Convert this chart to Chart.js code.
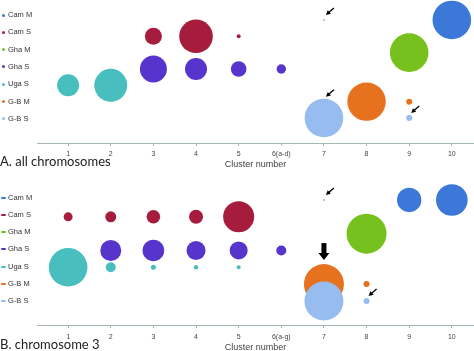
<!DOCTYPE html>
<html>
<head>
  <title>Cluster membership</title>
  <script src="https://cdn.jsdelivr.net/npm/chart.js"></script>
  <style>
    body { margin: 0; width: 474px; height: 351px; overflow: hidden; position: relative; background: #fff;
           font-family: "Liberation Sans", Arial, sans-serif; }
    .panel { position: absolute; left: 0; }
    .legend-item { position: absolute; left: 8px; font-size: 7.5px; line-height: 10px; color: #333; white-space: nowrap; }
    .legend-item i { position: absolute; top: 4px; }
    .panel-label { position: absolute; left: 0; font-family: Lato, sans-serif; font-size: 13px; line-height: 15px; color: #222; white-space: nowrap; }
  </style>
</head>
<body>
  <div class="panel" style="top:0"><canvas id="chartA" width="474" height="175"></canvas></div>
  <div class="panel" style="top:175px"><canvas id="chartB" width="474" height="180"></canvas></div>
  <div id="legendA"></div>
  <div id="legendB"></div>
  <div class="panel-label" style="top:154px">A. all chromosomes</div>
  <div class="panel-label" style="top:337px">B. chromosome 3</div>

  <script>
    const seriesNames = ['Cam M', 'Cam S', 'Gha M', 'Gha S', 'Uga S', 'G-B M', 'G-B S'];
    const seriesColors = ['#3c78d8', '#a61c3c', '#77c11e', '#5735cc', '#48bebe', '#e6711f', '#96bcf0'];

    const clusterLabelsA = ['1', '2', '3', '4', '5', '6(a-d)', '7', '8', '9', '10'];
    const clusterLabelsB = ['1', '2', '3', '4', '5', '6(a-g)', '7', '8', '9', '10'];

    // A. all chromosomes: clusters each series falls in, and bubble size there
    const clustersA = [[7, 10], [3, 4, 5], [9], [3, 4, 5, 6], [1, 2], [7, 8, 9], [7, 9]];
    const sizesA = [[0.8, 19.3], [8.5, 16.8, 2], [19.3], [13.5, 11, 7.8, 4.7], [11, 16.5], [2.2, 19.2, 3], [19.3, 3]];

    // B. chromosome 3
    const clustersB = [[7, 9, 10], [1, 2, 3, 4, 5], [8], [2, 3, 4, 5, 6], [1, 2, 3, 4, 5], [7, 8], [7, 8]];
    const sizesB = [[0.8, 12.2, 15.8], [4.5, 5.5, 6.8, 7, 15.5], [20], [10.5, 10.8, 9.5, 9, 5], [19.3, 5, 2.5, 2.2, 2], [20, 3], [19.5, 3]];

    // arrowed points [series, cluster]
    const arrowsA = [['Cam M', 7], ['G-B M', 7], ['G-B S', 9]];
    const arrowsB = [['Cam M', 7], ['G-B S', 8]];
    const bigArrowsB = [['G-B M', 7]];

    const arrowPlugin = {
      id: 'arrows',
      afterDatasetsDraw(chart, args, opts) {
        const { ctx, scales: { x, y } } = chart;
        ctx.save();
        ctx.fillStyle = '#000';
        ctx.strokeStyle = '#000';
        (opts.small || []).forEach(([name, c]) => {
          const px = x.getPixelForValue(c);
          const py = y.getPixelForValue(seriesNames.indexOf(name));
          const x0 = px + 10, y0 = py - 12, x1 = px + 2, y1 = py - 5;
          const a = Math.atan2(y1 - y0, x1 - x0);
          const hl = 4.5, hw = 2.4;
          ctx.lineWidth = 1.3;
          ctx.beginPath();
          ctx.moveTo(x0, y0);
          ctx.lineTo(x1 - 3 * Math.cos(a), y1 - 3 * Math.sin(a));
          ctx.stroke();
          ctx.beginPath();
          ctx.moveTo(x1, y1);
          ctx.lineTo(x1 - hl * Math.cos(a) + hw * Math.sin(a), y1 - hl * Math.sin(a) - hw * Math.cos(a));
          ctx.lineTo(x1 - hl * Math.cos(a) - hw * Math.sin(a), y1 - hl * Math.sin(a) + hw * Math.cos(a));
          ctx.closePath();
          ctx.fill();
        });
        (opts.big || []).forEach(([name, c]) => {
          const px = x.getPixelForValue(c);
          const py = y.getPixelForValue(seriesNames.indexOf(name));
          ctx.fillRect(px - 2.5, py - 41, 5, 10.5);
          ctx.beginPath();
          ctx.moveTo(px - 5.5, py - 31);
          ctx.lineTo(px + 5.5, py - 31);
          ctx.lineTo(px, py - 24);
          ctx.closePath();
          ctx.fill();
        });
        ctx.restore();
      }
    };

    function makeChart(id, clusters, sizes, labels, cfg) {
      const datasets = seriesNames.map((name, i) => ({
        label: name,
        data: clusters[i].map((c, j) => ({ x: c, y: i, r: sizes[i][j] })),
        backgroundColor: seriesColors[i],
        borderWidth: 0,
        clip: false,
        order: seriesNames.length - i
      }));

      new Chart(document.getElementById(id), {
        type: 'bubble',
        data: { datasets },
        plugins: [arrowPlugin],
        options: {
          responsive: false,
          animation: false,
          events: [],
          layout: { autoPadding: false, padding: { left: 37, right: 0, top: 0, bottom: 0 } },
          plugins: {
            legend: { display: false },
            tooltip: { enabled: false },
            arrows: { small: cfg.arrows, big: cfg.bigArrows }
          },
          scales: {
            x: {
              type: 'linear',
              min: 0.27,
              max: 10.52,
              afterBuildTicks: s => { s.ticks = labels.map((_, i) => ({ value: i + 1 })); },
              afterFit: s => { s.height = cfg.axisHeight; },
              ticks: {
                callback: v => labels[Math.round(v) - 1],
                font: { family: 'Liberation Sans', size: 7 },
                color: '#444',
                padding: cfg.tickPad,
                maxRotation: 0,
                autoSkip: false
              },
              grid: { drawOnChartArea: false, drawTicks: true, tickLength: 3, color: '#a4b7b4' },
              border: { display: true, color: '#a4b7b4', width: 1 },
              title: {
                display: true,
                text: 'Cluster number',
                font: { family: 'Liberation Sans', size: 9 },
                color: '#444',
                padding: { top: 0, bottom: cfg.titlePad }
              }
            },
            y: { type: 'linear', display: false, reverse: true, min: cfg.yMin, max: cfg.yMax }
          }
        }
      });
    }

    function makeLegend(id, top, step, dash) {
      const box = document.getElementById(id);
      seriesNames.forEach((name, i) => {
        const item = document.createElement('div');
        item.className = 'legend-item';
        item.style.top = (top + i * step - 5) + 'px';
        const mark = document.createElement('i');
        mark.style.background = seriesColors[i];
        if (dash) {
          mark.style.cssText += 'left:-7px;width:5px;height:2px;border-radius:1px;';
        } else {
          mark.style.cssText += 'left:-6px;width:3px;height:3px;border-radius:50%;top:3.5px;';
        }
        item.appendChild(mark);
        item.appendChild(document.createTextNode(name));
        box.appendChild(item);
      });
    }

    makeChart('chartA', clustersA, sizesA, clusterLabelsA,
      { yMin: -1.22, yMax: 7.53, axisHeight: 32, tickPad: 3.5, titlePad: 4.6, arrows: arrowsA, bigArrows: [] });
    makeChart('chartB', clustersB, sizesB, clusterLabelsB,
      { yMin: -1.485, yMax: 7.43, axisHeight: 30, tickPad: 4.5, titlePad: 1.6, arrows: arrowsB, bigArrows: bigArrowsB });

    makeLegend('legendA', 15, 17.33, false);
    makeLegend('legendB', 197.7, 17.2, true);
  </script>
</body>
</html>
